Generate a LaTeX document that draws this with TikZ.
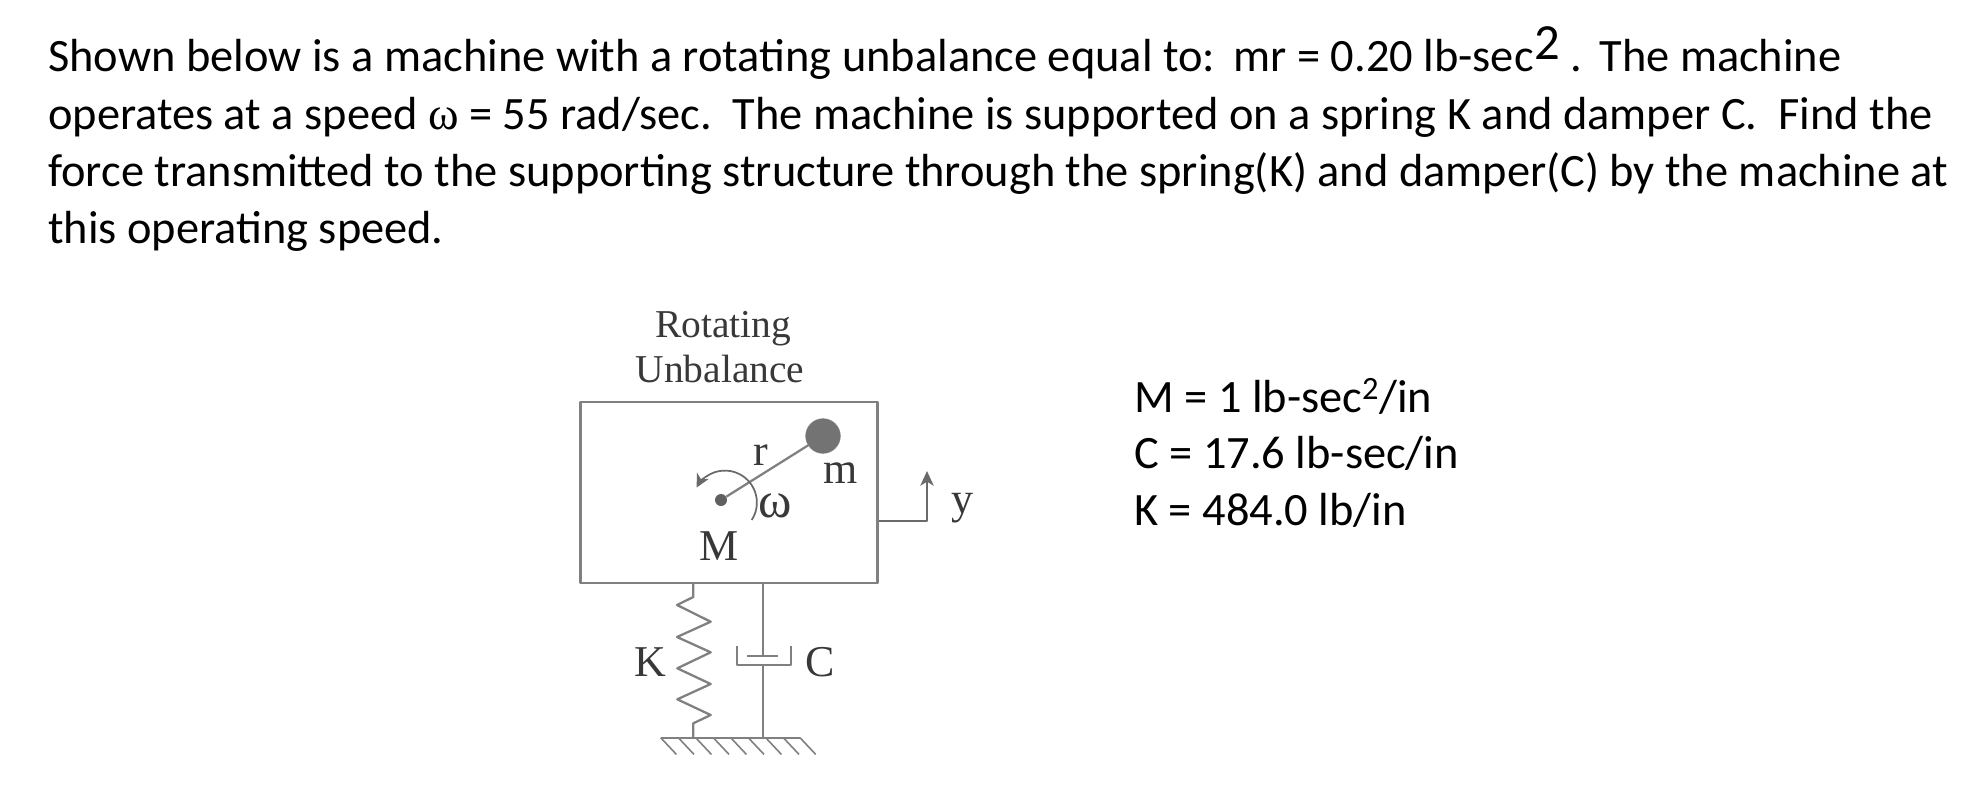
\documentclass[tikz,border=0pt]{standalone}
\usepackage{fontspec}
\setmainfont{Carlito}
\newfontfamily\figfont{Liberation Serif}
\usetikzlibrary{arrows.meta}
\definecolor{figline}{gray}{0.5}
\definecolor{figtext}{gray}{0.22}
\tikzset{
    textline/.style={anchor=base west, inner sep=0pt, font=\fontsize{34.8}{40}\selectfont},
    figlabel/.style={anchor=base, inner sep=0pt, text=figtext, font=\figfont\fontsize{33}{38}\selectfont},
    figtitle/.style={figlabel, font=\figfont\fontsize{29.6}{34}\selectfont},
    figdraw/.style={draw=figline, line width=1.7pt, line join=round},
    figarrow/.style={figdraw, line width=1.3pt, draw=figtext!75!white}
}
\begin{document}
\begin{tikzpicture}[x=0.75pt,y=-0.75pt]
    \useasboundingbox (0,0) rectangle (1970,786);

    % Problem statement
    \node (lineone) [textline] at (48,71) {Shown below is a machine with a rotating unbalance equal to:\ \ \kern-1.9pt mr = 0.20 lb-sec\raisebox{9pt}{\fontsize{38}{38}\selectfont 2}\ .\ \kern-2.5pt\ The machine};
    \node (linetwo) [textline] at (48,129.5) {operates at a speed {\figfont ω} = 55 rad/sec.\ \ The machine is supported on a spring K and damper C.\ \ Find the};
    \node (linethree) [textline] at (48,186) {force transmitted to the supporting structure through the spring(K) and damper(C) by the machine at};
    \node (linefour) [textline] at (48,243) {this operating speed.};

    % Data
    \node (massdata) [textline] at (1134,412) {M = 1 lb-sec\textsuperscript{2}/in};
    \node (dampdata) [textline] at (1134,468) {C = 17.6 lb-sec/in};
    \node (springdata) [textline] at (1134,525) {K = 484.0 lb/in};

    % Machine block
    \node (machine) [figdraw, minimum width=222.75pt, minimum height=136pt, inner sep=0pt] at (729,492.5) {};

    % Rotating arm
    \node (hub) [circle, fill=figtext!80!white, minimum size=9pt, inner sep=0pt] at (721,500) {};
    \node (rotor) [circle, fill=gray!90!black, draw=figline, minimum size=26pt, inner sep=0pt] at (823,436) {};
    \draw [figdraw] (hub) -- (rotor);

    % Speed arrow
    \draw [figarrow, -{Stealth[length=10pt,width=10pt,inset=3pt]}] (751.7,520) arc (33:-152:32);

    % Displacement arrow
    \coordinate (yfoot) at (machine.east |- 0,521);
    \coordinate (ytip) at (927,471);
    \draw [figarrow, -{Stealth[length=11pt,width=10pt,inset=3pt]}] (yfoot) -| (ytip);

    % Spring K
    \coordinate (springtop) at (693.3,583);
    \coordinate (springbot) at (693.3,737);
    \draw [figdraw] (springtop) -- (693.3,597) -- (677,605) -- (710.7,621.7) -- (677,637) -- (710.7,652.3)
        -- (677.3,668.3) -- (710.7,684) -- (677.3,699.3) -- (710.7,715) -- (693.3,723.3) -- (springbot);

    % Damper C
    \coordinate (dampertop) at (763.3,583);
    \coordinate (damperbot) at (763.3,737);
    \coordinate (pistonmid) at (763.3,655.7);
    \coordinate (cupmid) at (763.3,665);
    \draw [figdraw] (dampertop) -- (pistonmid);
    \draw [figdraw] (747.3,655.7) -- (778.3,655.7);
    \draw [figdraw] (736.7,646) -- (736.7,665) -- (791,665) -- (791,646);
    \draw [figdraw] (cupmid) -- (damperbot);

    % Ground
    \draw [figdraw] (660.7,737.7) -- (800,737.7);
    \foreach \hatchx in {660.7,678.3,695.7,713.3,730.7,748.3,765.7,783.3,800}
        \draw [figdraw, line width=1.2pt] (\hatchx,737.7) -- ++(15.7,16.7);

    % Labels
    \node (rotlabel) [figtitle] at (723,337) {Rotating};
    \node (unblabel) [figtitle] at (720,382.5) {Unbalance};
    \node (rlabel) [figlabel] at (761,465.5) {r};
    \node (mlabel) [figlabel] at (841,483) {m};
    \node (wlabel) [figlabel, font=\figfont\fontsize{38}{38}\selectfont] at (775,517.5) {ω};
    \node (Mlabel) [figlabel] at (719,560) {M};
    \node (ylabel) [figlabel] at (962,513) {y};
    \node (Klabel) [figlabel] at (650,676.5) {K};
    \node (Clabel) [figlabel] at (820,676.5) {C};
\end{tikzpicture}
\end{document}
